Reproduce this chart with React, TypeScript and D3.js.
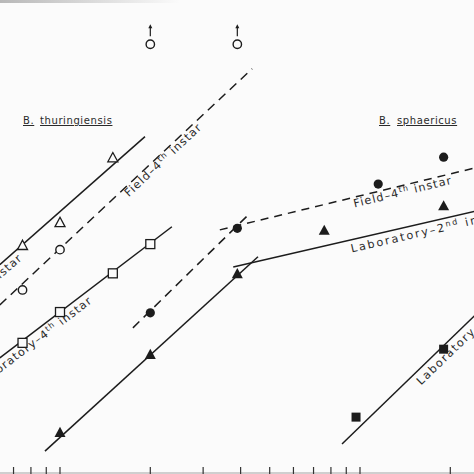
import * as d3 from 'd3';

const tickDoses = [7, 8, 9, 10, 20, 30, 40, 50, 60, 70, 80, 90, 100, 200];

// B. thuringiensis
const btLab2Dose = [7.5, 10, 15];
const btLab2Probit = [5.39, 5.68, 6.5];
const btField4Dose = [7.5, 10];
const btField4Probit = [4.83, 5.34];
const btField4OffDose = [20, 39];
const btField4OffProbit = [7.94, 7.94];
const btLab4Dose = [7.5, 10, 15, 20];
const btLab4Probit = [4.16, 4.55, 5.04, 5.41];

// B. sphaericus
const bsFieldDose = [20, 39, 115, 190];
const bsFieldProbit = [4.54, 5.61, 6.17, 6.51];
const bsLab2Dose = [10, 20, 39, 76, 190];
const bsLab2Probit = [3.02, 4.01, 5.03, 5.58, 5.89];
const bsLabDose = [97, 190];
const bsLabProbit = [3.22, 4.08];

// fitted lines: [dose, probit] end points
const lineBtLab2 = [[6.3, 5.15], [19.2, 6.77]];
const lineBtField4 = [[6.3, 4.64], [43.7, 7.63]];
const lineBtLab4 = [[6.3, 3.97], [23.6, 5.63]];
const lineBsFieldLow = [[17.5, 4.35], [41.9, 5.76]];
const lineBsLab2Low = [[8.91, 2.79], [45.7, 5.25]];
const lineBsFieldHigh = [[34.1, 5.59], [245, 6.38]];
const lineBsLab2High = [[37.8, 5.12], [245, 5.83]];
const lineBsLab = [[87.1, 2.88], [245, 4.53]];

const W = 474;
const H = 474;
const ink = '#1c1c1c';
const paper = '#fbfbfb';
const font = '"DejaVu Sans", sans-serif';

const x = d3.scaleLog().domain([10, 100]).range([60, 360]);
const y = d3.scaleLinear().domain([2.5, 8.5]).range([H, 0]);

const pts = (dose: number[], probit: number[]) => dose.map((d, i) => [x(d), y(probit[i])] as [number, number]);

const Fit = ({ seg, dashed, dash = '9,6' }: { seg: number[][]; dashed?: boolean; dash?: string }) => (
  <line
    x1={x(seg[0][0])}
    y1={y(seg[0][1])}
    x2={x(seg[1][0])}
    y2={y(seg[1][1])}
    stroke={ink}
    strokeWidth={1.5}
    strokeDasharray={dashed ? dash : undefined}
  />
);

const tri = (cx: number, cy: number, s = 10) =>
  `M${cx},${cy - s * 0.55}L${cx + s / 2},${cy + s * 0.38}L${cx - s / 2},${cy + s * 0.38}Z`;

// label sitting along a fitted line
const LineLabel = ({
  seg, t, d, anchor, main, sup, rest, spacing = 1.2,
}: {
  seg: number[][]; t: number; d: number; anchor: 'start' | 'end';
  main: string; sup: string; rest: string; spacing?: number;
}) => {
  const x0 = x(seg[0][0]), y0 = y(seg[0][1]);
  const x1 = x(seg[1][0]), y1 = y(seg[1][1]);
  const ang = Math.atan2(y1 - y0, x1 - x0);
  const px = x0 + (x1 - x0) * t - Math.sin(ang) * d;
  const py = y0 + (y1 - y0) * t + Math.cos(ang) * d;
  return (
    <text
      transform={`translate(${px},${py}) rotate(${(ang * 180) / Math.PI})`}
      textAnchor={anchor}
      fontFamily={font}
      fontSize={11.2}
      letterSpacing={spacing}
      fill="#2a2a2a"
    >
      {main}
      <tspan fontSize={8} dy={-4}>{sup}</tspan>
      <tspan dy={4}>{rest}</tspan>
    </text>
  );
};

export default function App() {
  return (
    <svg width={W} height={H} style={{ position: 'absolute', left: 0, top: 0, background: paper }}>
      <defs>
        <linearGradient id="scanEdge" x1="0" x2="1" y1="0" y2="0">
          <stop offset="0%" stopColor="#b8b8b8" />
          <stop offset="100%" stopColor="#b8b8b8" stopOpacity={0} />
        </linearGradient>
      </defs>
      <rect x={0} y={0} width={180} height={3} fill="url(#scanEdge)" />

      {/* bottom axis ticks */}
      <line x1={0} x2={W} y1={H - 1} y2={H - 1} stroke="#cfcfcf" strokeWidth={2} />
      {tickDoses.map(t => (
        <line key={t} x1={x(t)} x2={x(t)} y1={H - 7} y2={H} stroke="#333" strokeWidth={1.2} />
      ))}

      {/* panel titles */}
      <text x={23} y={124} fontFamily={font} fontSize={10} letterSpacing={0.6} fill="#2a2a2a" textDecoration="underline">B.</text>
      <text x={40} y={124} fontFamily={font} fontSize={10} letterSpacing={0.6} fill="#2a2a2a" textDecoration="underline">thuringiensis</text>
      <text x={379} y={124} fontFamily={font} fontSize={10} letterSpacing={0.6} fill="#2a2a2a" textDecoration="underline">B.</text>
      <text x={397} y={124} fontFamily={font} fontSize={10} letterSpacing={0.6} fill="#2a2a2a" textDecoration="underline">sphaericus</text>

      {/* fitted lines */}
      <Fit seg={lineBtLab2} />
      <Fit seg={lineBtField4} dashed />
      <Fit seg={lineBtLab4} />
      <Fit seg={lineBsFieldLow} dashed />
      <Fit seg={lineBsLab2Low} />
      <Fit seg={lineBsFieldHigh} dashed dash="8,6" />
      <Fit seg={lineBsLab2High} />
      <Fit seg={lineBsLab} />

      {/* line labels */}
      <LineLabel seg={lineBtLab2} t={0.11} d={11} anchor="end" main="Laboratory–2" sup="nd" rest=" instar" />
      <LineLabel seg={lineBtField4} t={0.485} d={9.5} anchor="start" main="Field–4" sup="th" rest=" instar" />
      <LineLabel seg={lineBtLab4} t={0.5} d={12} anchor="end" main="Laboratory–4" sup="th" rest=" instar" />
      <LineLabel seg={lineBsFieldHigh} t={0.515} d={10} anchor="start" main="Field–4" sup="th" rest=" instar" />
      <LineLabel seg={lineBsLab2High} t={0.475} d={12.5} anchor="start" main="Laboratory–2" sup="nd" rest=" instar" spacing={2} />
      <LineLabel seg={lineBsLab} t={0.52} d={13} anchor="start" main="Laboratory–4" sup="th" rest=" instar" spacing={1.6} />

      {/* open triangles */}
      {pts(btLab2Dose, btLab2Probit).map(([cx, cy], i) => (
        <path key={`ot${i}`} d={tri(cx, cy)} fill={paper} stroke={ink} strokeWidth={1.3} />
      ))}
      {/* open circles */}
      {pts(btField4Dose, btField4Probit).map(([cx, cy], i) => (
        <circle key={`oc${i}`} cx={cx} cy={cy} r={4.2} fill={paper} stroke={ink} strokeWidth={1.4} />
      ))}
      {pts(btField4OffDose, btField4OffProbit).map(([cx, cy], i) => (
        <g key={`oa${i}`}>
          <circle cx={cx} cy={cy} r={4.2} fill={paper} stroke={ink} strokeWidth={1.4} />
          <line x1={cx} x2={cx} y1={cy - 8} y2={cy - 17} stroke={ink} strokeWidth={1.2} />
          <path d={`M${cx},${cy - 20}L${cx + 2},${cy - 16}L${cx - 2},${cy - 16}Z`} fill={ink} />
        </g>
      ))}
      {/* open squares */}
      {pts(btLab4Dose, btLab4Probit).map(([cx, cy], i) => (
        <rect key={`os${i}`} x={cx - 4.5} y={cy - 4.5} width={9} height={9} fill={paper} stroke={ink} strokeWidth={1.3} />
      ))}
      {/* filled circles */}
      {pts(bsFieldDose, bsFieldProbit).map(([cx, cy], i) => (
        <circle key={`fc${i}`} cx={cx} cy={cy} r={4.6} fill={ink} />
      ))}
      {/* filled triangles */}
      {pts(bsLab2Dose, bsLab2Probit).map(([cx, cy], i) => (
        <path key={`ft${i}`} d={tri(cx, cy, 11)} fill={ink} />
      ))}
      {/* filled squares */}
      {pts(bsLabDose, bsLabProbit).map(([cx, cy], i) => (
        <rect key={`fs${i}`} x={cx - 4.5} y={cy - 4.5} width={9} height={9} fill={ink} />
      ))}
    </svg>
  );
}
